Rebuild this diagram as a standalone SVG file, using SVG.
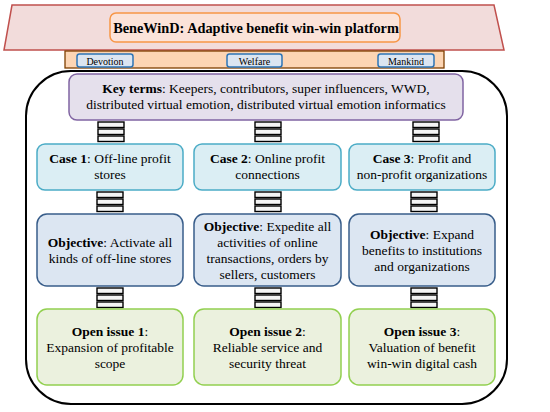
<svg xmlns="http://www.w3.org/2000/svg" width="550" height="412" viewBox="0 0 550 412" font-family="'Liberation Serif', 'DejaVu Serif', serif">
<defs>
<style>
text{font-family:"Liberation Serif","DejaVu Serif",serif;fill:#000;text-anchor:middle}
.t{font-size:13.5px}
.b{font-weight:bold}
.s{font-size:10px}
.lab{fill:#dbe5f1;stroke:#2e75b6;stroke-width:1.5}
.case{fill:#dbeef4;stroke:#4bacc6;stroke-width:1.5}
.obj{fill:#dce6f2;stroke:#385d8a;stroke-width:1.5}
.iss{fill:#ebf1de;stroke:#92d050;stroke-width:1.5}
.r{fill:#f4f4f4;stroke:#000;stroke-width:1.4}
</style>
<g id="ladder">
<rect class="r" x="-13" y="0" width="26" height="5.5"/>
<rect class="r" x="-13" y="7" width="26" height="5.5"/>
<rect class="r" x="-13" y="14" width="26" height="5.5"/>
</g>
</defs>
<rect width="550" height="412" fill="#fff"/>
<g id="platform">
<polygon points="12,5 494,5 504,50 4,50" fill="#f2dcdb" stroke="#c0504d" stroke-width="1.5"/>
<rect x="110" y="13" width="290" height="29" rx="6" fill="#fbe3d9" stroke="#f79646" stroke-width="1.5"/>
<text x="256" y="33" class="b" style="font-size:14.3px">BeneWinD: Adaptive benefit win-win platform</text>
</g>
<g id="values">
<rect x="65" y="51" width="379" height="17" fill="#fcd5b4" stroke="#7f3f00" stroke-width="1.3"/>
<g id="devotion"><rect class="lab" x="77" y="54" width="56" height="13" rx="2.5"/><text class="s" x="105" y="64.5">Devotion</text></g>
<g id="welfare"><rect class="lab" x="227" y="54" width="55" height="13" rx="2.5"/><text class="s" x="254.5" y="64.5">Welfare</text></g>
<g id="mankind"><rect class="lab" x="378" y="54" width="56" height="13" rx="2.5"/><text class="s" x="406" y="64.5">Mankind</text></g>
</g>
<g id="container">
<rect x="26" y="71" width="481" height="333" rx="45" fill="none" stroke="#000" stroke-width="2"/>
</g>
<g id="keyterms">
<rect x="69" y="74" width="394" height="46" rx="8" fill="#e5e0ec" stroke="#8064a2" stroke-width="1.5"/>
<text class="t" x="266" y="93"><tspan class="b">Key terms</tspan>: Keepers, contributors, super influencers, WWD,</text>
<text class="t" x="266" y="109">distributed virtual emotion, distributed virtual emotion informatics</text>
</g>
<g id="connectors">
<use href="#ladder" x="111" y="122"/>
<use href="#ladder" x="268" y="122"/>
<use href="#ladder" x="426" y="122"/>
<use href="#ladder" x="110" y="192"/>
<use href="#ladder" x="268" y="192"/>
<use href="#ladder" x="424" y="192"/>
<use href="#ladder" x="110" y="288"/>
<use href="#ladder" x="268" y="288"/>
<use href="#ladder" x="424" y="288"/>
</g>
<g id="case1">
<rect class="case" x="37" y="144" width="146" height="46" rx="8"/>
<text class="t" x="110" y="163"><tspan class="b">Case 1</tspan>: Off-line profit</text>
<text class="t" x="110" y="179">stores</text>
</g>
<g id="case2">
<rect class="case" x="194" y="144" width="147" height="46" rx="8"/>
<text class="t" x="267.5" y="163"><tspan class="b">Case 2</tspan>: Online profit</text>
<text class="t" x="267.5" y="179">connections</text>
</g>
<g id="case3">
<rect class="case" x="349" y="144" width="146" height="46" rx="8"/>
<text class="t" x="422" y="163"><tspan class="b">Case 3</tspan>: Profit and</text>
<text class="t" x="422" y="179">non-profit organizations</text>
</g>
<g id="objective1">
<rect class="obj" x="37" y="214" width="146" height="72" rx="10"/>
<text class="t" x="110" y="247"><tspan class="b">Objective</tspan>: Activate all</text>
<text class="t" x="110" y="263">kinds of off-line stores</text>
</g>
<g id="objective2">
<rect class="obj" x="194" y="214" width="147" height="72" rx="10"/>
<text class="t" x="267.5" y="231"><tspan class="b">Objective</tspan>: Expedite all</text>
<text class="t" x="267.5" y="247">activities of online</text>
<text class="t" x="267.5" y="263">transactions, orders by</text>
<text class="t" x="267.5" y="279">sellers, customers</text>
</g>
<g id="objective3">
<rect class="obj" x="349" y="214" width="146" height="72" rx="10"/>
<text class="t" x="422" y="239"><tspan class="b">Objective</tspan>: Expand</text>
<text class="t" x="422" y="255">benefits to institutions</text>
<text class="t" x="422" y="271">and organizations</text>
</g>
<g id="issue1">
<rect class="iss" x="37" y="309" width="146" height="76" rx="10"/>
<text class="t" x="110" y="336"><tspan class="b">Open issue 1</tspan>:</text>
<text class="t" x="110" y="352">Expansion of profitable</text>
<text class="t" x="110" y="368">scope</text>
</g>
<g id="issue2">
<rect class="iss" x="194" y="309" width="147" height="76" rx="10"/>
<text class="t" x="267.5" y="336"><tspan class="b">Open issue 2</tspan>:</text>
<text class="t" x="267.5" y="352">Reliable service and</text>
<text class="t" x="267.5" y="368">security threat</text>
</g>
<g id="issue3">
<rect class="iss" x="349" y="309" width="146" height="76" rx="10"/>
<text class="t" x="422" y="336"><tspan class="b">Open issue 3</tspan>:</text>
<text class="t" x="422" y="352">Valuation of benefit</text>
<text class="t" x="422" y="368">win-win digital cash</text>
</g>
</svg>
